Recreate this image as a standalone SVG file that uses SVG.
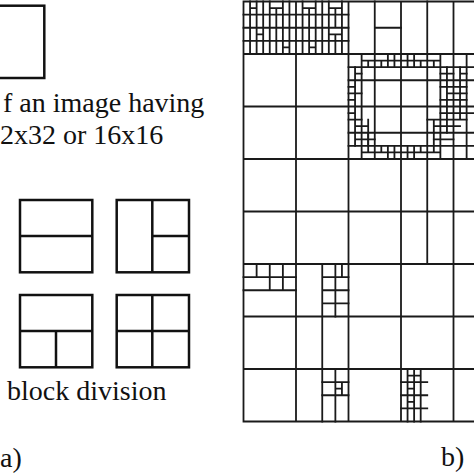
<svg xmlns="http://www.w3.org/2000/svg" width="474" height="474" viewBox="0 0 474 474">
  <style>
    .frame { fill: none; stroke: #111; stroke-width: 2.5; }
    .grid { fill: none; stroke: #1a1a1a; stroke-width: 1.8; vector-effect: non-scaling-stroke; stroke-linecap: square; }
    .label { font-family: "Liberation Serif", "DejaVu Serif", serif; font-size: 28px; fill: #111; }
  </style>
  <rect width="474" height="474" fill="#fff"/>

  <!-- panel a: a whole block and the four ways of dividing it -->
  <g id="whole-block">
    <rect class="frame" x="-30" y="5.7" width="74.3" height="72.3"/>
  </g>
  <text class="label" x="3" y="111.5">f an image having</text>
  <text class="label" x="0" y="144">2x32 or 16x16</text>

  <g id="split-horizontal">
    <rect class="frame" x="20" y="200" width="72.3" height="72.3"/>
    <path class="frame" d="M20 236H92.3"/>
  </g>
  <g id="split-vertical-then-right">
    <rect class="frame" x="116.7" y="200" width="72.3" height="72.3"/>
    <path class="frame" d="M152.3 200V272.3M152.3 236H189"/>
  </g>
  <g id="split-horizontal-then-bottom">
    <rect class="frame" x="20" y="295" width="72.3" height="72.3"/>
    <path class="frame" d="M20 331H92.3M56 331V367.3"/>
  </g>
  <g id="split-quad">
    <rect class="frame" x="116.7" y="295" width="72.3" height="72.3"/>
    <path class="frame" d="M116.7 331H189M152.3 295V367.3"/>
  </g>
  <text class="label" x="7" y="400">block division</text>
  <text class="label" x="0" y="467">a)</text>

  <!-- panel b: block partition map, 1 unit = 1/32 of a 52.5 px block -->
  <g id="partition-map" transform="translate(243.5,1.5) scale(1.640625)">
    <!-- border and 32-unit block lines -->
    <path class="grid" d="M0 0H140.5M0 0V256M0 256H140.5
      M0 32H140.5M0 64H140.5M0 96H140.5M0 128H140.5M0 160H140.5M0 192H140.5M0 224H140.5
      M32 0V256M64 0V256M96 0V256M128 0V256"/>

    <!-- top-left dense area -->
    <path class="grid" d="M0 8H64M0 16H64M0 24H64
      M4 0V32M8 0V32M12 0V32M16 0V32M20 4V32M24 0V32M28 0V32
      M36 0V32M40 4V32M44 0V32M48 0V32M52 0V32M56 4V16M56 20V32M60 0V32
      M4 4H8M16 4H24M36 4H44M52 4H60
      M8 20H12M52 20H60M24 28H28M40 28H44"/>

    <!-- first row, right part -->
    <path class="grid" d="M80 0V96M80 16H96M112 0V160"/>

    <!-- ring-shaped area -->
    <path class="grid" d="M72 32V96M120 32V96M136 32V96
      M64 40H140.5M64 48H140.5M64 80H140.5M64 88H140.5
      M72 36H120M88 32V40M92 32V40M100 32V40M104 32V40
      M76 36V40M84 36V40M108 36V40M116 36V40
      M72 92H120M88 88V96M92 88V96M100 88V96M104 88V96
      M76 80V92M84 88V92M108 88V92M116 80V92"/>
    <!-- ring, left side -->
    <path class="grid" d="M68 40V88M68 44H72M64 52H68M64 56H72M64 60H68M64 68H68M64 72H72
      M68 76H76M76 72V88M68 84H80"/>
    <!-- ring, right side -->
    <path class="grid" d="M124 40V80M132 40V72
      M120 44H128M132 44H136M120 52H136M124 56H136M120 60H136M120 68H140.5
      M112 72H136M116 72V80M116 76H132M116 84H128"/>

    <!-- row 5 -->
    <path class="grid" d="M0 168H32M0 176H32M8 160V168M16 160V176M24 160V176
      M48 160V256M56 160V192M60 160V168M48 168H64M48 176H64M48 184H64"/>

    <!-- row 7 -->
    <path class="grid" d="M56 224V256M48 232H64M48 240H64M60 232V240M56 236H60
      M100 224V256M104 224V256M108 224V256
      M100 228H108M96 232H112M100 236H104M96 240H112M100 244H104M96 248H112"/>
  </g>
  <text class="label" x="441" y="466">b)</text>
</svg>
